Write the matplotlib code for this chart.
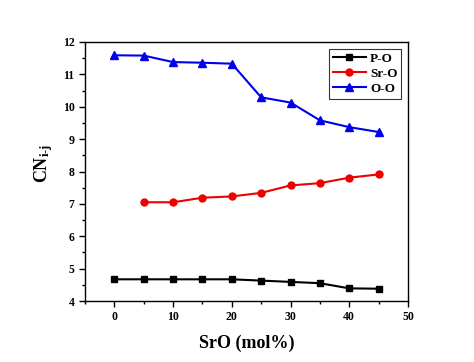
import matplotlib
matplotlib.use("Agg")
import matplotlib.pyplot as plt
from matplotlib.ticker import MultipleLocator

x = [0, 5, 10, 15, 20, 25, 30, 35, 40, 45]
p_o = [4.67, 4.67, 4.67, 4.67, 4.67, 4.63, 4.59, 4.55, 4.39, 4.38]
x_sr = [5, 10, 15, 20, 25, 30, 35, 40, 45]
sr_o = [7.05, 7.05, 7.19, 7.23, 7.34, 7.57, 7.64, 7.81, 7.91]
o_o = [11.59, 11.58, 11.38, 11.36, 11.33, 10.29, 10.13, 9.58, 9.37, 9.22]

plt.rcParams['font.family'] = ['Liberation Serif', 'DejaVu Serif']
plt.rcParams['font.weight'] = 'bold'
plt.rcParams['mathtext.fontset'] = 'custom'
plt.rcParams['mathtext.rm'] = 'Liberation Serif:bold'
plt.rcParams['mathtext.bf'] = 'Liberation Serif:bold'
plt.rcParams['mathtext.default'] = 'bf'

fig = plt.figure(figsize=(4.74, 3.62), dpi=100)
ax = fig.add_axes([85/474, 1-301/362, (408-85)/474, (301-42)/362])

ax.plot(x, p_o, color='black', marker='s', markersize=4.5, lw=1.5, label='P-O')
ax.plot(x_sr, sr_o, color='#ee0000', marker='o', markersize=5, lw=1.5, label='Sr-O')
ax.plot(x, o_o, color='#0000ee', marker='^', markersize=5.5, lw=1.5, label='O-O')

ax.set_xlim(-5, 50)
ax.set_ylim(4, 12)
ax.xaxis.set_major_locator(MultipleLocator(10))
ax.xaxis.set_minor_locator(MultipleLocator(5))
ax.yaxis.set_major_locator(MultipleLocator(1))
ax.yaxis.set_minor_locator(MultipleLocator(0.5))
ax.tick_params(which='both', direction='out', labelsize=8.5, width=1)
ax.tick_params(which='major', length=4)
ax.tick_params(which='minor', length=2.5)
for lab in ax.get_xticklabels() + ax.get_yticklabels():
    lab.set_fontweight('bold')
for s in ax.spines.values():
    s.set_linewidth(1)

ax.set_xlabel('SrO (mol%)', fontsize=13, fontweight='bold', labelpad=8)
ax.set_ylabel(r'CN$_{\text{i-j}}$', fontsize=13, fontweight='bold')
ax.yaxis.set_label_coords(-0.093, 0.533)

leg = ax.legend(loc='upper right', fontsize=9.5, frameon=True, fancybox=False,
                edgecolor='black', handlelength=2.5, borderpad=0.3, labelspacing=0.2,
                handletextpad=0.3)
leg.get_frame().set_linewidth(0.8)
for t in leg.get_texts():
    t.set_fontweight('bold')

fig.savefig('out.png', dpi=100)
